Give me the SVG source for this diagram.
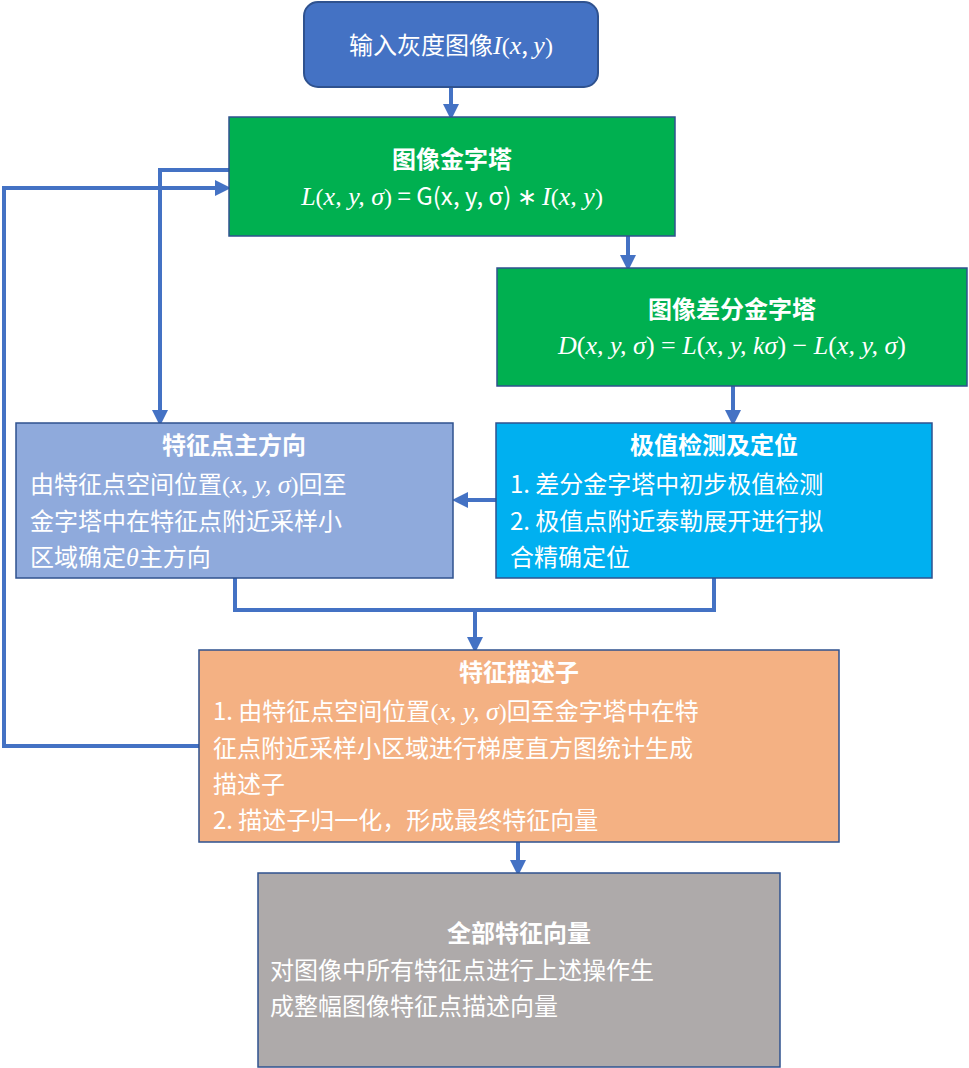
<svg xmlns="http://www.w3.org/2000/svg" width="969" height="1068" viewBox="0 0 969 1068">
<style>
text{font-family:"Noto Sans CJK SC","Noto Sans",sans-serif;fill:#fff;font-size:24px}
.b{font-weight:bold}
.m{font-family:"Liberation Serif","DejaVu Serif",serif;font-style:italic;font-size:26px}
.c{stroke:#4472C4;stroke-width:4;fill:none}
</style>
<defs><marker id="a" markerWidth="4" markerHeight="4" refX="2.5" refY="2" orient="auto"><path d="M0,0L4,2L0,4z" fill="#4472C4"/></marker></defs>
<g id="connectors" class="c">
<path d="M451,87V114" marker-end="url(#a)"/>
<path d="M628,236V265" marker-end="url(#a)"/>
<path d="M733,386V420" marker-end="url(#a)"/>
<path d="M496,500H458" marker-end="url(#a)"/>
<path d="M235,578V610H714V578M475,610V647" marker-end="url(#a)"/>
<path d="M229,170H160V420" marker-end="url(#a)"/>
<path d="M199,746H4V188H225" marker-end="url(#a)"/>
<path d="M518,842V870" marker-end="url(#a)"/>
</g>
<g id="n1"><rect x="304" y="2" width="294" height="85" rx="14" fill="#4472C4" stroke="#2F528F" stroke-width="2"/>
<text x="451" y="54" text-anchor="middle" font-size="26">输入灰度图像<tspan class="m">I</tspan><tspan font-family="Liberation Serif">(</tspan><tspan class="m">x</tspan>, <tspan class="m">y</tspan><tspan font-family="Liberation Serif">)</tspan></text></g>
<g id="n2"><rect x="229" y="117" width="446" height="119" fill="#00B050" stroke="#2F528F" stroke-width="1.5"/>
<text x="452" y="168" text-anchor="middle" class="b">图像金字塔</text>
<text x="452" y="205" text-anchor="middle"><tspan class="m">L</tspan><tspan font-family="Liberation Serif">(</tspan><tspan class="m">x, y, σ</tspan><tspan font-family="Liberation Serif">)</tspan> = G(x, y, σ) ∗ <tspan class="m">I</tspan><tspan font-family="Liberation Serif">(</tspan><tspan class="m">x, y</tspan><tspan font-family="Liberation Serif">)</tspan></text></g>
<g id="n3"><rect x="497" y="268" width="470" height="118" fill="#00B050" stroke="#2F528F" stroke-width="1.5"/>
<text x="732" y="318" text-anchor="middle" class="b">图像差分金字塔</text>
<text x="732" y="354" text-anchor="middle" class="m">D<tspan font-style="normal">(</tspan>x, y, σ<tspan font-style="normal">) = </tspan>L<tspan font-style="normal">(</tspan>x, y, kσ<tspan font-style="normal">) − </tspan>L<tspan font-style="normal">(</tspan>x, y, σ<tspan font-style="normal">)</tspan></text></g>
<g id="n4"><rect x="496" y="423" width="436" height="155" fill="#00B0F0" stroke="#2F528F" stroke-width="1.5"/>
<text x="714" y="454" text-anchor="middle" class="b">极值检测及定位</text>
<text x="510" y="493">1. 差分金字塔中初步极值检测</text>
<text x="510" y="530">2. 极值点附近泰勒展开进行拟</text>
<text x="510" y="566">合精确定位</text></g>
<g id="n5"><rect x="16" y="423" width="437" height="155" fill="#8FAADC" stroke="#2F528F" stroke-width="1.5"/>
<text x="234" y="454" text-anchor="middle" class="b">特征点主方向</text>
<text x="30" y="493">由特征点空间位置<tspan font-family="Liberation Serif">(</tspan><tspan class="m">x, y, σ</tspan><tspan font-family="Liberation Serif">)</tspan>回至</text>
<text x="30" y="530">金字塔中在特征点附近采样小</text>
<text x="30" y="566">区域确定<tspan class="m">θ</tspan>主方向</text></g>
<g id="n6"><rect x="199" y="650" width="640" height="192" fill="#F4B183" stroke="#2F528F" stroke-width="1.5"/>
<text x="519" y="681" text-anchor="middle" class="b">特征描述子</text>
<text x="213" y="720">1. 由特征点空间位置<tspan font-family="Liberation Serif">(</tspan><tspan class="m">x, y, σ</tspan><tspan font-family="Liberation Serif">)</tspan>回至金字塔中在特</text>
<text x="213" y="757">征点附近采样小区域进行梯度直方图统计生成</text>
<text x="213" y="793">描述子</text>
<text x="213" y="829">2. 描述子归一化，形成最终特征向量</text></g>
<g id="n7"><rect x="258" y="873" width="522" height="194" fill="#AEAAAA" stroke="#2F528F" stroke-width="1.5"/>
<text x="519" y="942" text-anchor="middle" class="b">全部特征向量</text>
<text x="270" y="979">对图像中所有特征点进行上述操作生</text>
<text x="270" y="1015">成整幅图像特征点描述向量</text></g>
</svg>
